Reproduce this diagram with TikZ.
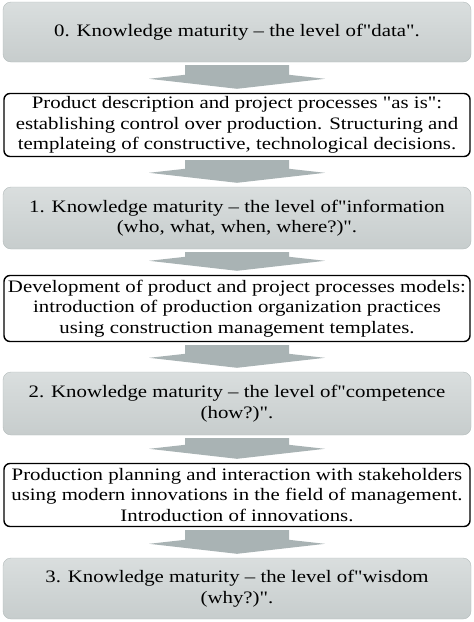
\documentclass[tikz,border=0pt]{standalone}
\usepackage{fontspec}
\setmainfont{Liberation Serif}[Ligatures = TeXOff, FakeStretch = 1.19]
\usetikzlibrary{calc}
\definecolor{levelgray}{HTML}{CDD3D3}
\definecolor{levelrim}{HTML}{B3BBBB}
\definecolor{flowgray}{HTML}{A9B3B4}
\tikzset{
    level/.style = {rounded corners = 8pt, draw = levelrim, top color = levelgray!75!white, bottom color = levelgray!97!black,
        minimum width = 468pt, align = center, font = \fontsize{17.5}{20.5}\selectfont},
    stage/.style = {rounded corners = 6pt, draw = black, line width = 1.4pt, fill = white,
        minimum width = 466pt, align = center, font = \fontsize{17.5}{20.5}\selectfont, inner sep = 1pt},
}
\begin{document}
\begin{tikzpicture}[x = 1pt, y = -1pt]
            \useasboundingbox (0,0) rectangle (474,622);
            % Draw the maturity levels and the stages between them:
            \node [level, minimum height = 60pt] (L0) at (237,32)    {0. Knowledge maturity – the level of"data".};
            \node [stage, minimum height = 63pt] (S1) at (237,125)   {Product description and project processes "as is":\\ establishing control over production. Structuring and\\ templateing of constructive, technological decisions.};
            \node [level, minimum height = 62pt] (L1) at (237,218)   {1. Knowledge maturity – the level of"information\\ (who, what, when, where?)".};
            \node [stage, minimum height = 66pt] (S2) at (237,308.5) {Development of product and project processes models:\\ introduction of production organization practices\\ using construction management templates.};
            \node [level, minimum height = 63pt] (L2) at (237,403.5) {2. Knowledge maturity – the level of"competence\\ (how?)".};
            \node [stage, minimum height = 63pt] (S3) at (237,495)   {Production planning and interaction with stakeholders\\ using modern innovations in the field of management.\\ Introduction of innovations.};
            \node [level, minimum height = 61pt] (L3) at (237,588.5) {3. Knowledge maturity – the level of"wisdom\\ (why?)".};

            % Draw the block arrows:
            \foreach \from/\to in {L0/S1, S1/L1, L1/S2, S2/L2, L2/S3, S3/L3}
                \fill [flowgray] ($(\from.south)+(-52,3)$) -- ($(\to.north)+(-52,-18)$) -- ($(\to.north)+(-88,-14)$)
                    -- ($(\to.north)+(0,-4)$) -- ($(\to.north)+(88,-14)$) -- ($(\to.north)+(52,-18)$)
                    -- ($(\from.south)+(52,3)$) -- cycle;
        \end{tikzpicture}
\end{document}
